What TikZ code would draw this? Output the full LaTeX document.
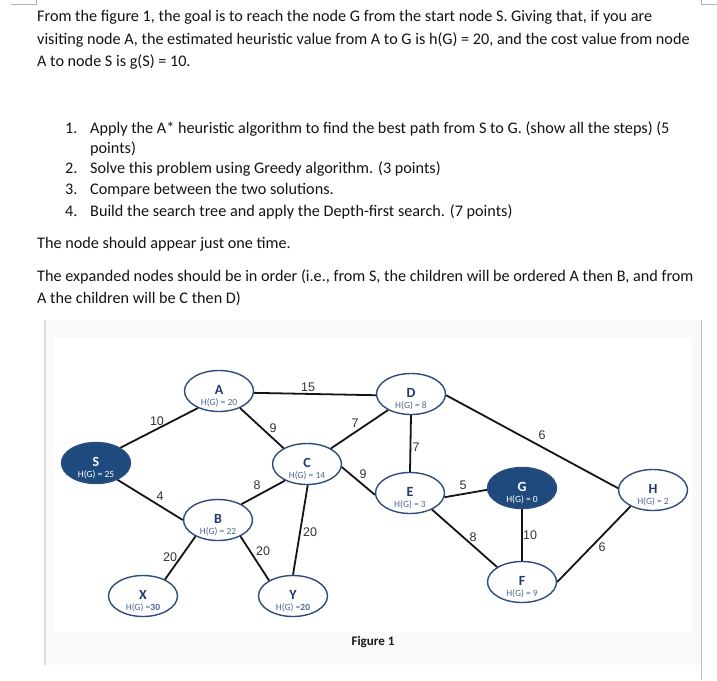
\documentclass[tikz,border=0pt]{standalone}
\usepackage{fontspec}
\setmainfont{Carlito}
\newfontfamily\arialf{Liberation Sans}
\usetikzlibrary{shapes.geometric}
\definecolor{navy}{HTML}{1F4A7E}
\definecolor{navyline}{HTML}{2E4C7E}
\definecolor{navytext}{HTML}{1F3B6E}
\definecolor{hgtext}{HTML}{4E6792}
\tikzset{
  bodytxt/.style={inner sep=0pt, anchor=base west, text=black!92, font=\fontsize{16.2}{19}\selectfont},
  vert/.style={draw=navyline, line width=1.4pt, ellipse, minimum width=69pt, minimum height=41pt, inner sep=0pt, fill=white},
  startgoal/.style={fill=navy},
  lt/.style={inner sep=0pt, text=navytext, font=\bfseries\fontsize{14}{16}\selectfont},
  ht/.style={inner sep=0pt, text=hgtext, font=\fontsize{9.5}{11}\selectfont},
  wt/.style={text=white},
  edge/.style={draw=black!92, line width=1.8pt},
  elab/.style={inner sep=0pt, text=black!80, font=\arialf\fontsize{12.5}{14}\selectfont}
}
\newcommand\gv[6]{%
  \node[vert,#6] (#1) at (#2,#3) {};
  \node[lt,#6] (#1-l) at ([yshift=1.5pt]#1.center) {#4};
  \node[ht,#6] (#1-h) at ([yshift=-12pt]#1.center) {#5};}
\begin{document}
\begin{tikzpicture}[x=1pt,y=-1pt]
\useasboundingbox (0,0) rectangle (717,680);
\fill[white] (0,0) rectangle (717,680);
% corner marks
\draw[gray!60, line width=0.9pt] (11,4) -- (36,4) -- (36,0);
\draw[gray!60, line width=0.9pt] (701,0) -- (701,4) -- (717,4);
% text
\node[bodytxt] (t1) at (37,21) {From the figure 1, the goal is to reach the node G from the start node S. Giving that, if you are};
\node[bodytxt] (t2) at (37,44) {visiting node A, the estimated heuristic value from A to G is h(G) = 20, and the cost value from node};
\node[bodytxt] (t3) at (37,66) {A to node S is g(S) = 10.};
\node[bodytxt] (n1) at (65,133) {1.};
\node[bodytxt] (l1) at (90,133) {Apply the A* heuristic algorithm to find the best path from S to G. (show all the steps) (5};
\node[bodytxt] (l1b) at (90,153) {points)};
\node[bodytxt] (n2) at (65,173) {2.};
\node[bodytxt] (l2) at (90,173) {Solve this problem using Greedy algorithm. (3 points)};
\node[bodytxt] (n3) at (65,194) {3.};
\node[bodytxt] (l3) at (90,194) {Compare between the two solutions.};
\node[bodytxt] (n4) at (65,216) {4.};
\node[bodytxt] (l4) at (90,216) {Build the search tree and apply the Depth-first search. (7 points)};
\node[bodytxt] (p1) at (37,248) {The node should appear just one time.};
\node[bodytxt] (p2) at (37,281) {The expanded nodes should be in order (i.e., from S, the children will be ordered A then B, and from};
\node[bodytxt] (p3) at (37,303) {A the children will be C then D)};
% figure background
\fill[black!2] (45,320) rectangle (700,665);
\fill[white] (54,338) rectangle (692,632);
\draw[black!14, line width=2pt] (45,320) -- (45,665);
\draw[black!28, line width=1pt] (701,320) -- (701,680);
\node[inner sep=0pt, anchor=base, text=black!90, font=\bfseries\fontsize{13}{15}\selectfont] (fig) at (373,645) {Figure 1};
% vertices
\gv{S}{96}{463}{S}{H(G) = 25}{startgoal,wt}
\gv{A}{219}{391}{A}{H(G) = 20}{}
\gv{B}{218}{520}{B}{H(G) = 22}{}
\gv{C}{307}{464}{C}{H(G) = 14}{}
\gv{D}{411}{394}{D}{H(G) = 8}{}
\gv{E}{410}{493}{E}{H(G) = 3}{}
\gv{G}{522}{488}{G}{H(G) = 0}{startgoal,wt}
\gv{H}{653}{490}{H}{H(G) = 2}{}
\gv{F}{522}{582}{F}{H(G) = 9}{}
\gv{X}{143}{596}{X}{H(G) =\textbf{30}}{}
\gv{Y}{293}{596}{Y}{H(G) =\textbf{20}}{}
% edges
\draw[edge] (S.32) -- (A.219);
\draw[edge] (S.-38) -- (B.180);
\draw[edge] (A.-3) -- (D.182);
\draw[edge] (A.-39) -- (C.146);
\draw[edge] (B.34) -- (C.217);
\draw[edge] (C.33) -- (D.215);
\draw[edge] (C.-5) -- (E.183);
\draw[edge] (C.-88) -- (Y.90);
\draw[edge] (B.216) -- (X.37);
\draw[edge] (B.-36) -- (Y.147);
\draw[edge] (D.south) -- (E.north);
\draw[edge] (D.-2) -- (H.177);
\draw[edge] (E.-7) -- (G.183);
\draw[edge] (E.-37) -- (F.149);
\draw[edge] (G.south) -- (F.north);
\draw[edge] (H.216) -- (F.0);
% edge labels
\node[elab] (eSA) at (157,421) {10};
\node[elab] (eAD) at (308,387) {15};
\node[elab] (eAC) at (273,428) {9};
\node[elab] (eCD) at (355,423) {7};
\node[elab] (eCE) at (363,474) {9};
\node[elab] (eSB) at (160,496) {4};
\node[elab] (eBC) at (257,485) {8};
\node[elab] (eDE) at (416,447) {7};
\node[elab] (eDH) at (542,435) {6};
\node[elab] (eEG) at (463,485) {5};
\node[elab] (eBX) at (170,557) {20};
\node[elab] (eBY) at (263,551) {20};
\node[elab] (eCY) at (310,532) {20};
\node[elab] (eEF) at (473,537) {8};
\node[elab] (eGF) at (530,535) {10};
\node[elab] (eHF) at (602,547) {6};
\end{tikzpicture}
\end{document}
